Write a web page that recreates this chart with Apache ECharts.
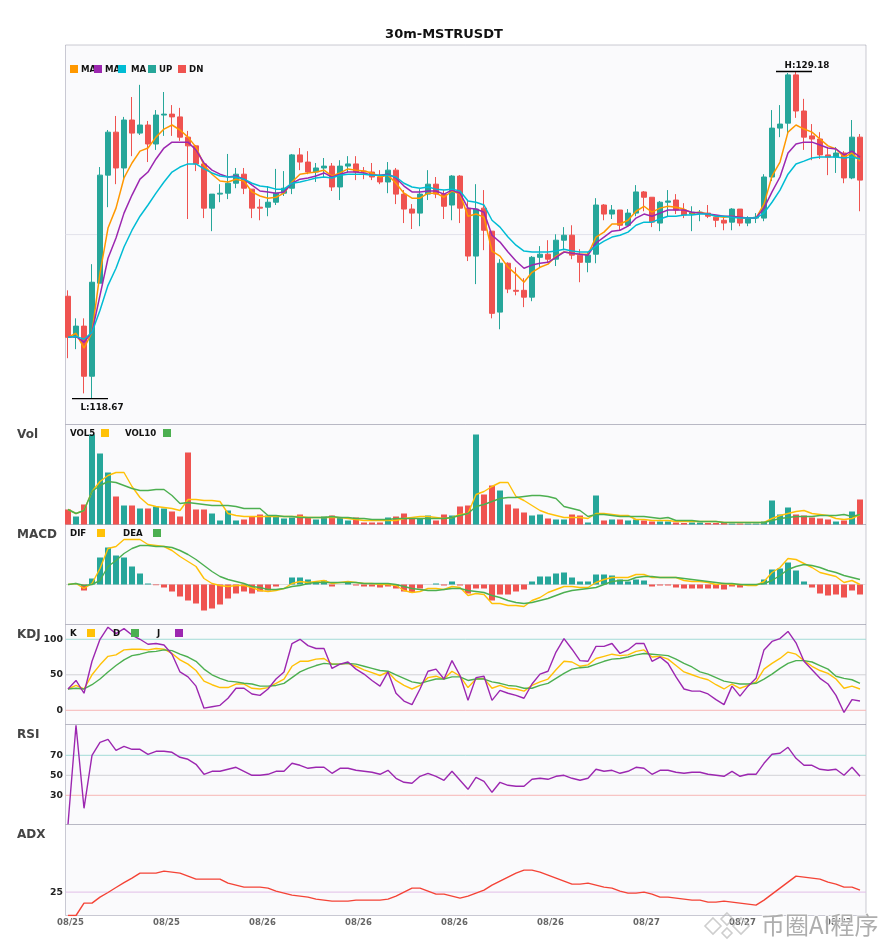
<!DOCTYPE html>
<html><head><meta charset="utf-8">
<style>html,body{margin:0;padding:0;background:#fff}#c{width:885px;height:950px}</style>
<script src="https://cdn.jsdelivr.net/npm/echarts@6/dist/echarts.min.js"></script>
</head><body><div id="c"></div>
<script>
const chartTitle = '30m-MSTRUSDT';
const tickLabels = ['08/25','08/25','08/26','08/26','08/26','08/26','08/27','08/27','08/27'];
const highMark = 129.18, lowMark = 118.67, midPrice = 123.94;
// [open, close, low, high]
const candles = [
[121.96,120.64,119.97,122.15],[120.64,121.00,120.26,121.25],[121.00,119.39,118.84,121.25],[119.39,122.41,118.67,122.99],[122.38,125.85,122.38,126.11],
[125.85,127.23,124.82,127.30],[127.23,126.08,125.56,127.75],[126.08,127.62,125.69,127.72],[127.62,127.20,126.46,128.36],[127.20,127.46,127.14,128.75],
[127.46,126.85,126.27,127.59],[126.85,127.78,126.66,127.94],[127.78,127.81,127.11,128.52],[127.81,127.72,127.11,128.10],[127.72,127.07,126.95,128.01],
[127.07,126.79,124.44,127.27],[126.79,126.21,125.98,126.82],[126.21,124.79,124.47,126.21],[124.79,125.24,124.05,125.24],[125.24,125.27,124.98,125.56],
[125.27,125.59,125.08,126.53],[125.59,125.88,125.43,126.08],[125.88,125.43,125.24,126.08],[125.40,124.79,124.47,125.40],[124.82,124.79,124.40,125.08],
[124.82,124.98,124.53,125.50],[124.98,125.27,124.89,126.05],[125.27,125.43,125.18,125.98],[125.43,126.50,125.24,126.53],[126.50,126.27,126.01,126.72],
[126.27,125.95,125.88,126.62],[125.95,126.08,125.63,126.24],[126.08,126.14,125.76,126.40],[126.14,125.47,125.34,126.24],[125.47,126.14,125.05,126.33],
[126.14,126.21,125.95,126.46],[126.21,125.95,125.69,126.46],[125.98,125.95,125.72,126.11],[125.95,125.79,125.69,126.24],[125.79,125.63,125.56,126.01],
[125.63,126.01,125.27,126.27],[126.01,125.24,124.92,126.08],[125.24,124.76,124.31,125.37],[124.76,124.63,124.12,124.92],[124.63,125.24,124.21,125.40],
[125.24,125.56,125.05,126.01],[125.56,125.24,125.11,125.79],[125.24,124.85,124.44,125.37],[124.89,125.82,124.40,125.85],[125.82,124.79,124.31,125.85],
[124.79,123.25,123.09,125.02],[123.25,124.76,122.35,125.56],[124.79,124.08,123.44,125.37],[124.05,121.41,121.25,124.05],[121.45,123.02,120.90,123.15],
[123.02,122.19,122.06,123.05],[122.15,122.12,121.99,122.89],[122.15,121.93,121.61,122.54],[121.93,123.21,121.80,123.25],[123.21,123.31,122.89,123.57],
[123.31,123.15,123.02,123.76],[123.15,123.76,122.93,123.95],[123.76,123.92,123.44,124.18],[123.92,123.28,123.15,124.24],[123.28,123.05,122.41,123.47],
[123.05,123.28,122.73,123.38],[123.31,124.89,123.02,125.11],[124.89,124.60,124.40,124.92],[124.60,124.73,124.44,124.89],[124.73,124.24,124.08,124.73],
[124.24,124.63,124.21,124.76],[124.63,125.31,124.53,125.53],[125.31,125.14,124.69,125.34],[125.14,124.34,124.18,125.14],[124.31,124.98,124.05,125.02],
[124.98,125.02,124.53,125.37],[125.05,124.73,124.60,125.24],[124.73,124.57,124.47,124.95],[124.60,124.66,124.05,124.85],[124.63,124.66,124.37,124.73],
[124.63,124.53,124.47,124.89],[124.50,124.40,124.18,124.53],[124.40,124.31,124.08,124.50],[124.34,124.76,124.08,124.79],[124.76,124.31,124.21,124.76],
[124.31,124.47,124.21,124.53],[124.47,124.50,124.31,124.63],[124.47,125.79,124.37,125.88],[125.79,127.36,125.66,127.94],[127.36,127.49,127.07,128.10],
[127.52,129.07,127.17,129.13],[129.07,127.91,127.69,129.18],[127.91,127.07,126.66,128.30],[127.11,127.01,126.33,127.49],[127.01,126.50,126.37,127.23],
[126.50,126.43,125.85,126.75],[126.43,126.56,125.92,126.75],[126.56,125.76,125.59,126.62],[125.76,127.07,125.72,127.62],[127.07,125.69,124.69,127.17]];
const ma5 = [120.64,120.77,120.29,120.80,122.70,124.15,124.79,125.76,126.24,126.62,126.72,127.07,127.33,127.46,127.30,127.07,126.75,126.17,125.88,125.66,125.63,125.72,125.66,125.31,125.18,125.11,125.14,125.27,125.63,125.88,125.92,125.95,126.01,125.82,125.92,126.05,126.01,125.98,125.92,125.79,125.85,125.59,125.27,125.11,125.11,125.27,125.27,125.14,125.34,125.24,124.53,124.60,124.50,123.41,123.25,122.89,122.67,122.41,122.73,122.89,122.99,123.25,123.38,123.34,123.31,123.31,123.86,124.02,124.28,124.28,124.40,124.69,124.85,124.66,124.79,124.85,124.82,124.76,124.63,124.66,124.60,124.53,124.50,124.53,124.47,124.47,124.47,124.92,125.82,126.27,127.23,127.46,127.33,127.23,127.01,126.79,126.69,126.43,126.56,126.30];
const ma10 = [120.64,120.67,120.48,120.80,121.99,123.18,123.83,124.63,125.21,125.72,125.95,126.37,126.72,126.91,126.91,126.91,126.66,126.24,126.01,125.88,125.79,125.82,125.72,125.53,125.34,125.31,125.27,125.31,125.59,125.72,125.76,125.82,125.92,125.79,125.88,125.95,125.95,125.92,125.85,125.85,125.88,125.76,125.50,125.31,125.31,125.34,125.34,125.24,125.37,125.27,124.79,124.76,124.66,123.92,123.70,123.38,123.09,122.86,122.96,123.02,123.05,123.21,123.38,123.34,123.31,123.28,123.67,123.86,124.05,124.08,124.21,124.47,124.60,124.53,124.63,124.73,124.73,124.73,124.66,124.63,124.60,124.57,124.53,124.53,124.50,124.47,124.47,124.79,125.31,125.79,126.56,126.85,126.91,126.91,126.82,126.72,126.69,126.50,126.62,126.43];
const ma20 = [120.64,120.67,120.58,120.80,121.51,122.31,122.86,123.54,124.08,124.53,124.89,125.27,125.63,125.95,126.11,126.21,126.21,126.05,125.92,125.82,125.79,125.79,125.72,125.59,125.50,125.47,125.40,125.40,125.59,125.63,125.69,125.76,125.79,125.76,125.85,125.88,125.88,125.88,125.85,125.85,125.85,125.79,125.59,125.47,125.43,125.47,125.40,125.37,125.40,125.34,125.02,124.98,124.89,124.40,124.18,123.86,123.60,123.41,123.38,123.38,123.38,123.41,123.47,123.41,123.38,123.38,123.57,123.73,123.86,123.92,124.02,124.24,124.34,124.34,124.44,124.53,124.53,124.57,124.57,124.60,124.60,124.53,124.53,124.50,124.47,124.47,124.47,124.63,124.98,125.37,125.88,126.21,126.30,126.40,126.43,126.43,126.43,126.40,126.43,126.37];
const volumes = [15,8,20,90,71,52,28,19,19,16,16,18,16,13,8,72,15,15,11,4,14,4,5,8,10,9,9,6,7,10,7,5,8,9,7,4,7,2,2,2,7,8,11,6,6,9,4,10,9,18,19,90,30,39,34,20,16,12,9,10,6,5,5,10,9,2,29,4,5,5,4,5,4,3,3,3,2,1.5,2,2,1.5,1.5,1.5,1,1,1,1,3,24,10,17,10,9,7,6,5,3,4,13,25];
const vol5 = [15,11,14,33,43,49,52,52,38,27,20,18,17,16,14,25,25,24,24,23,11,9,8,8,8,8,8,8,8,8,7,7,7,7,7,6,5,4,4,4,4,4,6,7,8,8,7,6,7,10,11,30,33,38,42,42,28,24,19,14,11,9,7,7,7,6,11,11,10,9,9,5,5,4,4,4,3,3,3,3,3,3,2,2,2,2,2,2,6,9,11,13,14,11,10,9,6,5,6,10];
const vol10 = [15,11,14,33,39,43,42,39,36,34,34,35,35,29,21,22,21,20,19,19,19,18,16,16,16,9,9,8,8,7,7,7,7,8,7,7,6,6,5,5,5,6,6,6,6,6,6,6,7,9,11,18,20,23,26,27,27,28,29,29,28,26,18,16,14,8,10,10,9,8,8,8,8,7,6,7,4,4,4,3,3,3,2,2,2,2,2,2,4,6,7,8,8,8,9,9,9,10,8,10];
const macdHist = [0,0,-.06,.06,.27,.37,.29,.27,.18,.11,.01,-.007,-.03,-.07,-.12,-.16,-.19,-.26,-.24,-.2,-.14,-.09,-.07,-.09,-.07,-.06,-.02,0,.07,.07,.05,.02,.04,-.02,0,.02,-.01,-.02,-.02,-.03,-.02,-.04,-.07,-.08,-.04,0,.01,-.01,.03,-.01,-.09,-.04,-.04,-.16,-.1,-.1,-.07,-.05,.03,.08,.08,.11,.12,.07,.03,.03,.1,.1,.09,.05,.03,.05,.04,-.02,-.01,-.01,-.03,-.04,-.04,-.04,-.04,-.04,-.05,-.02,-.03,0,0,.05,.15,.16,.22,.14,.03,-.03,-.09,-.11,-.1,-.13,-.06,-.1];
const dif = [0,.01,-.04,.01,.16,.36,.38,.45,.45,.45,.4,.39,.38,.34,.28,.23,.18,.06,.01,-.01,-.02,-.01,-.01,-.03,-.06,-.07,-.06,-.04,.01,.03,.02,.03,.04,.01,.02,.03,.02,.01,.01,0,0,-.01,-.06,-.08,-.07,-.04,-.04,-.05,-.02,-.03,-.11,-.09,-.1,-.19,-.19,-.21,-.21,-.22,-.16,-.13,-.08,-.05,-.02,-.02,-.03,-.03,.02,.05,.07,.07,.07,.1,.1,.07,.07,.07,.07,.04,.03,.03,.02,0,.01,0,0,-.01,-.01,.03,.12,.17,.26,.25,.21,.17,.12,.1,.08,.02,.04,0];
const dea = [0,.01,-.01,0,.04,.18,.24,.31,.36,.39,.39,.38,.38,.37,.34,.3,.25,.19,.13,.08,.05,.03,.01,-.02,-.03,-.05,-.05,-.04,-.02,-.01,.01,.02,.02,.02,.02,.02,.02,.01,.01,.01,.01,0,-.02,-.04,-.05,-.06,-.06,-.05,-.04,-.04,-.06,-.07,-.08,-.11,-.13,-.16,-.18,-.19,-.18,-.16,-.14,-.11,-.08,-.06,-.05,-.04,-.03,0,.03,.04,.04,.07,.08,.08,.07,.07,.07,.06,.05,.04,.03,.02,.01,.01,0,0,0,.01,.04,.09,.15,.18,.2,.19,.17,.14,.12,.09,.07,.05];
const kLine = [30,35,30,50,64,76,78,85,86,86,85,87,86,80,71,65,56,41,36,32,32,37,37,31,30,32,38,44,62,69,69,72,73,65,65,66,62,57,53,49,54,42,35,30,35,46,48,44,55,48,32,44,45,31,35,31,30,27,35,40,44,57,69,68,62,64,73,76,79,77,78,83,85,75,76,72,63,54,50,46,43,36,30,37,31,35,40,58,66,73,82,79,70,62,56,52,44,31,34,30];
const dLine = [30,31,30,36,44,54,63,71,77,79,82,83,85,84,79,75,69,58,50,45,41,40,38,37,34,34,35,38,46,54,59,63,66,65,65,66,65,62,59,56,55,50,45,40,38,41,44,44,47,47,42,44,44,40,38,35,34,31,31,35,38,45,52,58,60,61,65,69,72,73,75,78,80,79,78,77,72,66,61,54,51,46,41,39,37,37,38,44,51,59,66,70,70,68,63,58,48,45,43,38];
const jLine = [30,42,24,69,100,117,108,115,106,100,93,94,92,79,54,47,34,3,5,7,17,31,31,23,21,30,44,54,94,100,91,87,87,59,65,68,58,51,42,34,54,24,13,8,30,55,58,44,70,49,14,46,48,14,28,24,21,17,37,51,55,82,101,86,70,69,90,90,94,80,85,94,94,69,75,66,47,30,27,27,23,15,8,34,20,34,45,85,97,101,111,95,69,57,45,37,21,-3,15,13];
const rsi = [1,100,17,70,83,86,75,79,76,76,71,74,74,73,68,66,61,51,54,54,56,58,54,50,50,51,54,54,62,60,57,58,58,52,57,57,55,54,53,51,55,47,43,42,49,52,49,45,54,45,36,48,44,33,43,40,39,39,46,47,46,49,50,47,45,47,56,54,55,52,54,58,57,51,55,55,53,52,53,53,51,50,49,54,49,51,51,62,71,72,78,67,60,60,56,55,56,50,58,49];
const adx = [13.3,13.3,19.5,19.5,22.5,24.8,27.3,29.7,32,34.5,34.5,34.5,35.5,35,34.5,33,31.5,31.5,31.5,31.5,29.5,28.5,27.5,27.5,27.5,27,25.5,24.5,23.5,23,22.5,21.5,21,20.5,20.5,20.5,21,21,21,21,21.5,23,25,27,27,25.5,24,24,23,22,23,24.5,26,28.5,30.5,32.5,34.5,36,36,35,33.5,32,30.5,29,29,29.5,28.5,27.5,27,25.5,24.5,24.5,25,24,22.5,22.5,22,21.5,21,21,20,20,20.5,20,19.5,19,18.5,21,24,27,30,33,32.5,32,31.5,30,29,27.5,27.5,26];

const UP='#26a69a', DN='#ef5350', ORANGE='#ff9800', PURPLE='#9c27b0', CYAN='#00bcd4', AMBER='#ffc107', GREEN='#4caf50', ADXRED='#f44336';
const FONT='"DejaVu Sans"';
const categories = candles.map((_,i)=>tickLabels[Math.floor(i/12)]);

const panels = [[45,379.5],[424.5,100],[524.5,100],[624.5,100],[724.5,100],[824.5,91]];
const dataGrids = panels.map(p=>({left:64,width:800,top:p[0],height:p[1],show:false}));
const bgGrids = panels.map(p=>({left:65.5,width:800.5,top:p[0],height:p[1],show:true,backgroundColor:'#fafafc',borderColor:'rgba(110,110,135,0.36)',borderWidth:1}));

const xAxes = panels.map((p,i)=>({type:'category',gridIndex:i,data:categories,boundaryGap:true,
  axisLine:{show:false},axisTick:{show:false},splitLine:{show:false},
  axisLabel:i===5?{show:true,interval:(idx)=>idx%12===0,color:'#666',fontFamily:FONT,fontWeight:'bold',fontSize:8.5,margin:3,padding:[0,0,0,5],hideOverlap:false}:{show:false}}));
const tickFont={color:'#222',fontFamily:FONT,fontWeight:'bold',fontSize:9.3,margin:1};
const yCommon={axisLine:{show:false},axisTick:{show:false},splitLine:{show:false}};
const ranges=[[117.84,130.03],[0,100],[-0.4,0.6],[-20,120.8],[0.8,100.8],[13.3,58.8]];
const labelValues=[null,null,null,[0,50,100],[30,50,70],[25]];
const yAxes=ranges.map((r,i)=>({type:'value',gridIndex:i,min:r[0],max:r[1],...yCommon,
  axisLabel:labelValues[i]?{...tickFont,customValues:labelValues[i]}:{show:false}}));
// full-width reference levels live on hidden axes of the panel grids
const refX=panels.map((p,i)=>({type:'value',gridIndex:i+6,min:0,max:1,show:false}));
const refY=ranges.map((r,i)=>({type:'value',gridIndex:i+6,min:r[0],max:r[1],show:false}));
const TEALREF='#a3dbd6',GRAYREF='#d2d2d6',PINKREF='#f7b6b4',LILACREF='#e1bee7';
const levels=[[0,midPrice,'#e2e2ea'],[2,0,'#dcdce0'],[3,100,TEALREF],[3,50,GRAYREF],[3,0,PINKREF],[4,70,TEALREF],[4,50,GRAYREF],[4,30,PINKREF],[5,25,LILACREF]];
const refSeries=levels.map(([g,v,c])=>({name:'level '+v,type:'line',xAxisIndex:g+6,yAxisIndex:g+6,data:[[0,v],[1,v]],symbol:'none',silent:true,z:1,lineStyle:{color:c,width:1}}));

const line=(name,data,g,color,w=1.4)=>({name,type:'line',data,xAxisIndex:g,yAxisIndex:g,showSymbol:false,symbol:'none',silent:true,lineStyle:{color,width:w},itemStyle:{color},z:5,clip:true});

const hiLo=(coord,text,dx,side,dist)=>({coord,value:text,symbol:'rect',symbolSize:[36,1.4],symbolOffset:[-2,0],itemStyle:{color:'#000'},
 label:{show:true,position:side,formatter:text,color:'#111',fontFamily:FONT,fontWeight:'bold',fontSize:8.8,offset:[dx,0],distance:dist}});

const series=[
 ...refSeries,
 {name:'Candles',type:'candlestick',data:candles,xAxisIndex:0,yAxisIndex:0,barWidth:5,silent:true,z:3,
  itemStyle:{color:UP,color0:DN,borderColor:UP,borderColor0:DN,borderWidth:1},
  markPoint:{silent:true,animation:false,data:[hiLo([91,highMark],'H:'+highMark.toFixed(2),13,'top',1),hiLo([3,lowMark],'L:'+lowMark.toFixed(2),12,'bottom',4)]}},
 line('MA5',ma5,0,ORANGE,1.5),line('MA10',ma10,0,PURPLE,1.5),line('MA20',ma20,0,CYAN,1.5),
 {name:'Volume',type:'bar',xAxisIndex:1,yAxisIndex:1,barWidth:6,silent:true,
  data:volumes.map((v,i)=>({value:v,itemStyle:{color:candles[i][1]>=candles[i][0]?UP:DN}}))},
 line('VOL5',vol5,1,AMBER),line('VOL10',vol10,1,GREEN),
 {name:'MACD',type:'bar',xAxisIndex:2,yAxisIndex:2,barWidth:6,silent:true,
  data:macdHist.map(v=>({value:v,itemStyle:{color:v>=0?UP:DN}}))},
 line('DIF',dif,2,AMBER),line('DEA',dea,2,GREEN),
 line('K',kLine,3,AMBER),line('D',dLine,3,GREEN),line('J',jLine,3,PURPLE),
 line('RSI',rsi,4,PURPLE),line('ADX',adx,5,ADXRED)
];

const T=(text,top)=>({text,left:17,top,textStyle:{fontFamily:FONT,fontWeight:'bold',fontSize:12,color:'#444'},padding:0});
const titles=[{text:chartTitle,left:444,textAlign:'center',top:28,padding:0,textStyle:{fontFamily:FONT,fontWeight:'bold',fontSize:13,color:'#111'}},
 T('Vol',429),T('MACD',529),T('KDJ',629),T('RSI',729),T('ADX',829)];

const sw=(x,y,c)=>({type:'rect',shape:{x,y,width:8,height:8},style:{fill:c},z:20});
const tx=(x,y,text)=>({type:'text',x,y,style:{text,fill:'#111',font:'bold 8.6px "DejaVu Sans"',textVerticalAlign:'middle'},z:19});
const legendItems=[
 tx(81,70,'MA'),sw(70,65,ORANGE),tx(105,70,'MA'),sw(94,65,PURPLE),tx(131,70,'MA'),sw(118,65,CYAN),tx(159,70,'UP'),sw(148,65,UP),tx(189,70,'DN'),sw(178,65,DN),
 tx(70,434,'VOL5'),sw(101,429,AMBER),tx(125,434,'VOL10'),sw(163,429,GREEN),
 tx(70,534,'DIF'),sw(97,529,AMBER),tx(123,534,'DEA'),sw(153,529,GREEN),
 tx(70,634,'K'),sw(87,629,AMBER),tx(113,634,'D'),sw(131,629,GREEN),tx(157,634,'J'),sw(175,629,PURPLE)];
const diamond=(cx,cy,r)=>({type:'polygon',shape:{points:[[cx,cy-r],[cx+r,cy],[cx,cy+r],[cx-r,cy]]},style:{fill:'none',stroke:'rgba(185,185,185,0.7)',lineWidth:1.6},z:30});
const watermark=[diamond(713,926,8),diamond(727,919,6),diamond(741,926,8),diamond(727,933,5),
 {type:'text',x:761,y:925,style:{text:'币圈AI程序',fill:'rgba(165,165,165,0.9)',stroke:'rgba(255,255,255,0.85)',lineWidth:1.5,font:'24px "Noto Sans CJK SC"',textVerticalAlign:'middle'},z:30}];

const chart=echarts.init(document.getElementById('c'),null,{renderer:'canvas'});
chart.setOption({animation:false,backgroundColor:'#fff',title:titles,
 grid:[...dataGrids,...bgGrids],xAxis:[...xAxes,...refX],yAxis:[...yAxes,...refY],series,graphic:[...legendItems,...watermark]});
</script></body></html>
